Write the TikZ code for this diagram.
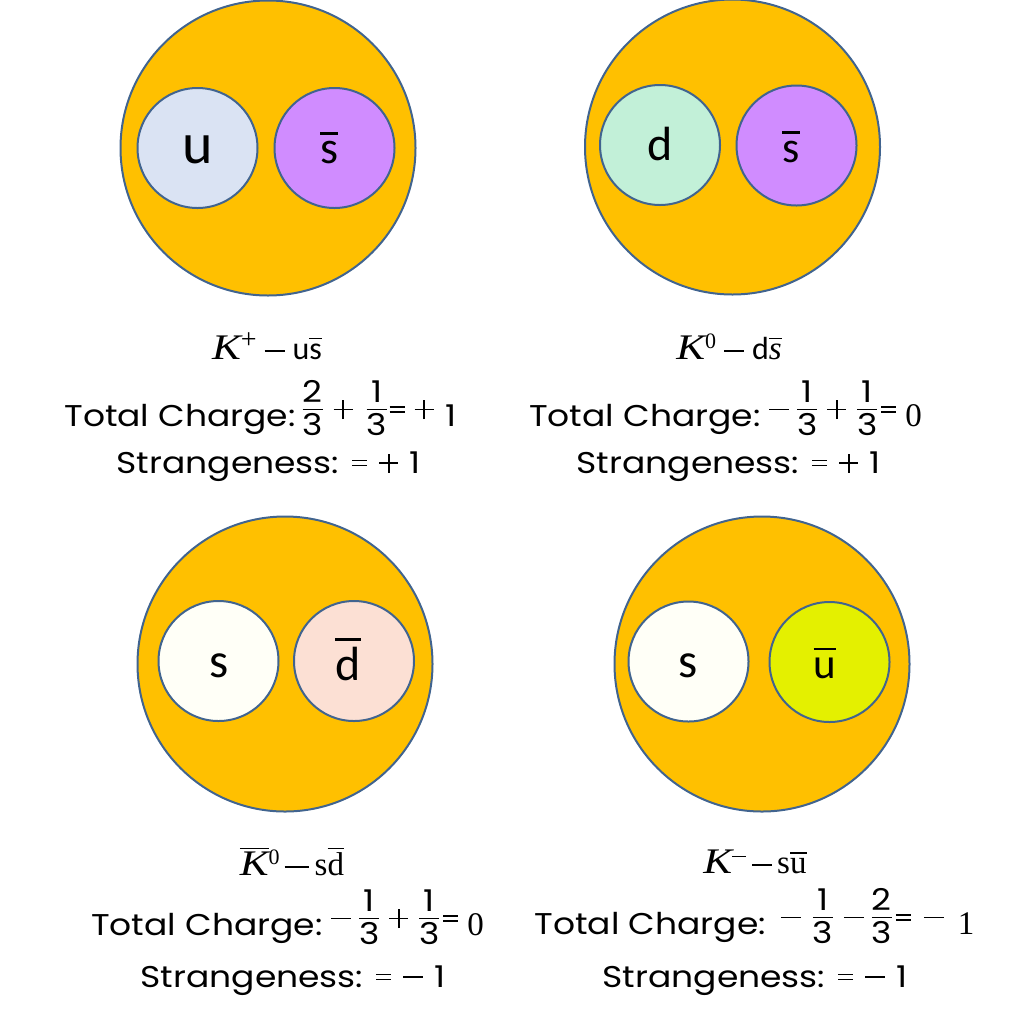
\documentclass[tikz,border=0pt]{standalone}
\usepackage{graphicx}
\usepackage{fontspec}
\setmainfont{Poppins}[FakeStretch=1.15]
\newfontfamily\qfam{Carlito}
\newfontfamily\srf{Liberation Serif}
\definecolor{gold}{HTML}{FFC000}
\definecolor{bordc}{HTML}{41648F}
\definecolor{qu}{HTML}{DAE3F3}
\definecolor{qsbar}{HTML}{D08CFF}
\definecolor{qd}{HTML}{C2F0D8}
\definecolor{qs}{HTML}{FFFFF7}
\definecolor{qdbar}{HTML}{FCE0D4}
\definecolor{qubar}{HTML}{E4F000}
\newcommand{\tfont}{\fontsize{30}{34}\selectfont}
\newcommand{\qsz}[1]{\qfam\fontsize{#1}{#1}\selectfont}
% fraction built from boxes: numerator, bar, denominator
\newcommand{\fr}[2]{\makebox[20pt][c]{\rlap{\makebox[20pt][c]{\raisebox{24pt}{#1}}}\rlap{\rule[15.7pt]{20pt}{1.6pt}}\makebox[20pt][c]{\raisebox{-9pt}{#2}}}}
\newcommand{\plus}[1]{\makebox[19pt][l]{\rule[\dimexpr#1-0.8pt\relax]{19pt}{1.6pt}\hspace{-10.3pt}\rule[\dimexpr#1-9.5pt\relax]{1.6pt}{19pt}}}
\newcommand{\minus}[1]{\rule[\dimexpr#1-0.8pt\relax]{20pt}{1.6pt}}
\newcommand{\eqs}[1]{\makebox[15pt][l]{\rule[\dimexpr#1+1.8pt\relax]{15pt}{1.5pt}\hspace{-15pt}\rule[\dimexpr#1-3.3pt\relax]{15pt}{1.5pt}}}
% overline: thickness, gap, content
\newcommand{\ovl}[3]{\vbox{\hrule height #1\kern#2\hbox{#3}}}
\newcommand{\KK}{\scalebox{1.2}[1]{\srf\itshape\fontsize{36}{36}\selectfont K}}
\newcommand{\sups}[2][28]{\raisebox{11pt}{\srf\fontsize{#1}{#1}\selectfont #2}}
\newcommand{\tmin}[1][20pt]{\hspace{8pt}\rule[7pt]{#1}{1.6pt}\hspace{8pt}}
\newcommand{\sn}[1]{{\qfam\fontsize{32}{32}\selectfont #1}}
\newcommand{\sr}[1]{{\srf\fontsize{33}{33}\selectfont #1}}
\tikzset{
  meson/.style={circle, draw=bordc, line width=2pt, fill=gold, minimum size=295pt, inner sep=0pt},
  quark/.style={circle, draw=bordc, line width=2pt, minimum size=120pt, inner sep=0pt},
  qlet/.style={anchor=base, inner sep=0pt},
  lbl/.style={anchor=base, inner sep=0pt, font=\tfont}
}
\begin{document}
\begin{tikzpicture}[x=1pt,y=-1pt]
\useasboundingbox (0,0) rectangle (1024,1021);
% top-left K+
\node[meson] (m1) at (268,148) {};
\node[quark, fill=qu] (q1a) at (197.5,148) {};
\node[quark, fill=qsbar] (q1b) at (334.5,148) {};
\node[qlet] (l1a) at (198,163) {\qsz{58}u};
\node[qlet] (l1b) at (329,163) {\ovl{2.4pt}{6pt}{\qsz{46}s}};
\node[lbl] (t1) at (267,359) {\KK\sups{+}\tmin\sn{u}\ovl{1.4pt}{4pt}{\sn{s}}};
\node[lbl] (c1) at (260.5,426) {Total Charge:\hspace{7pt}\fr{2}{3}\hspace{11pt}\plus{16.5pt}\hspace{14pt}\fr{1}{3}\hspace{3pt}\eqs{16.5pt}\hspace{10pt}\plus{16.5pt}\hspace{12pt}1};
\node[lbl] (s1) at (268.5,473) {Strangeness:\hspace{13pt}\eqs{10pt}\hspace{12pt}\plus{10pt}\hspace{11pt}1};
% top-right K0
\node[meson] (m2) at (732.5,147) {};
\node[quark, fill=qd] (q2a) at (660,145) {};
\node[quark, fill=qsbar] (q2b) at (796.5,145.5) {};
\node[qlet] (l2a) at (660,160) {\qsz{48}d};
\node[qlet] (l2b) at (791,162) {\ovl{2.4pt}{7pt}{\qsz{44}s}};
\node[lbl] (t2) at (729,359) {\KK\sups[22]{0}\tmin\sn{d}\ovl{1.4pt}{4pt}{\srf\itshape\fontsize{33}{33}\selectfont s}};
\node[lbl] (c2) at (725.5,426) {Total Charge:\hspace{9pt}\minus{16.5pt}\hspace{8pt}\fr{1}{3}\hspace{10pt}\plus{16.5pt}\hspace{11pt}\fr{1}{3}\hspace{4pt}\eqs{16.5pt}\hspace{9pt}{\srf\fontsize{33}{33}\selectfont 0}};
\node[lbl] (s2) at (728.5,473) {Strangeness:\hspace{13pt}\eqs{10pt}\hspace{12pt}\plus{10pt}\hspace{11pt}1};
% bottom-left K0bar
\node[meson] (m3) at (285,664) {};
\node[quark, fill=qs] (q3a) at (218.5,661) {};
\node[quark, fill=qdbar] (q3b) at (354,661) {};
\node[qlet] (l3a) at (219,677) {\qsz{49}s};
\node[qlet] (l3b) at (348,680) {\ovl{2.4pt}{6pt}{\qsz{48}d}};
\node[lbl] (t3) at (292,875) {\ovl{1.4pt}{2pt}{\KK}\sups[22]{0}\hspace{-3pt}\tmin[24pt]\hspace{-2pt}\sr{s}\ovl{1.4pt}{3pt}{\sr{d}}};
\node[lbl] (c3) at (287.5,935) {Total Charge:\hspace{9pt}\minus{16.5pt}\hspace{8pt}\fr{1}{3}\hspace{10pt}\plus{16.5pt}\hspace{11pt}\fr{1}{3}\hspace{4pt}\eqs{16.5pt}\hspace{9pt}{\srf\fontsize{33}{33}\selectfont 0}};
\node[lbl] (s3) at (293,987) {Strangeness:\hspace{13pt}\eqs{10pt}\hspace{12pt}\minus{10pt}\hspace{11pt}1};
% bottom-right K-
\node[meson] (m4) at (762,664) {};
\node[quark, fill=qs] (q4a) at (688.5,661.5) {};
\node[quark, fill=qubar] (q4b) at (829.5,662) {};
\node[qlet] (l4a) at (688,677) {\qsz{49}s};
\node[qlet] (l4b) at (825,678) {\ovl{2.4pt}{7pt}{\qsz{43}u}};
\node[lbl] (t4) at (755,873) {\KK\raisebox{16pt}{\rule{14pt}{1.5pt}}\hspace{-2pt}\tmin\hspace{-3pt}\sr{s}\ovl{1.4pt}{4pt}{\sr{u}}};
\node[lbl] (c4) at (754.5,934) {Total Charge:\hspace{15pt}\minus{16.5pt}\hspace{12pt}\fr{1}{3}\hspace{11pt}\minus{16.5pt}\hspace{8pt}\fr{2}{3}\hspace{4pt}\eqs{16.5pt}\hspace{13pt}\minus{16.5pt}\hspace{14pt}{\srf\fontsize{33}{33}\selectfont 1}};
\node[lbl] (s4) at (755,987) {Strangeness:\hspace{13pt}\eqs{10pt}\hspace{12pt}\minus{10pt}\hspace{11pt}1};
\end{tikzpicture}
\end{document}
